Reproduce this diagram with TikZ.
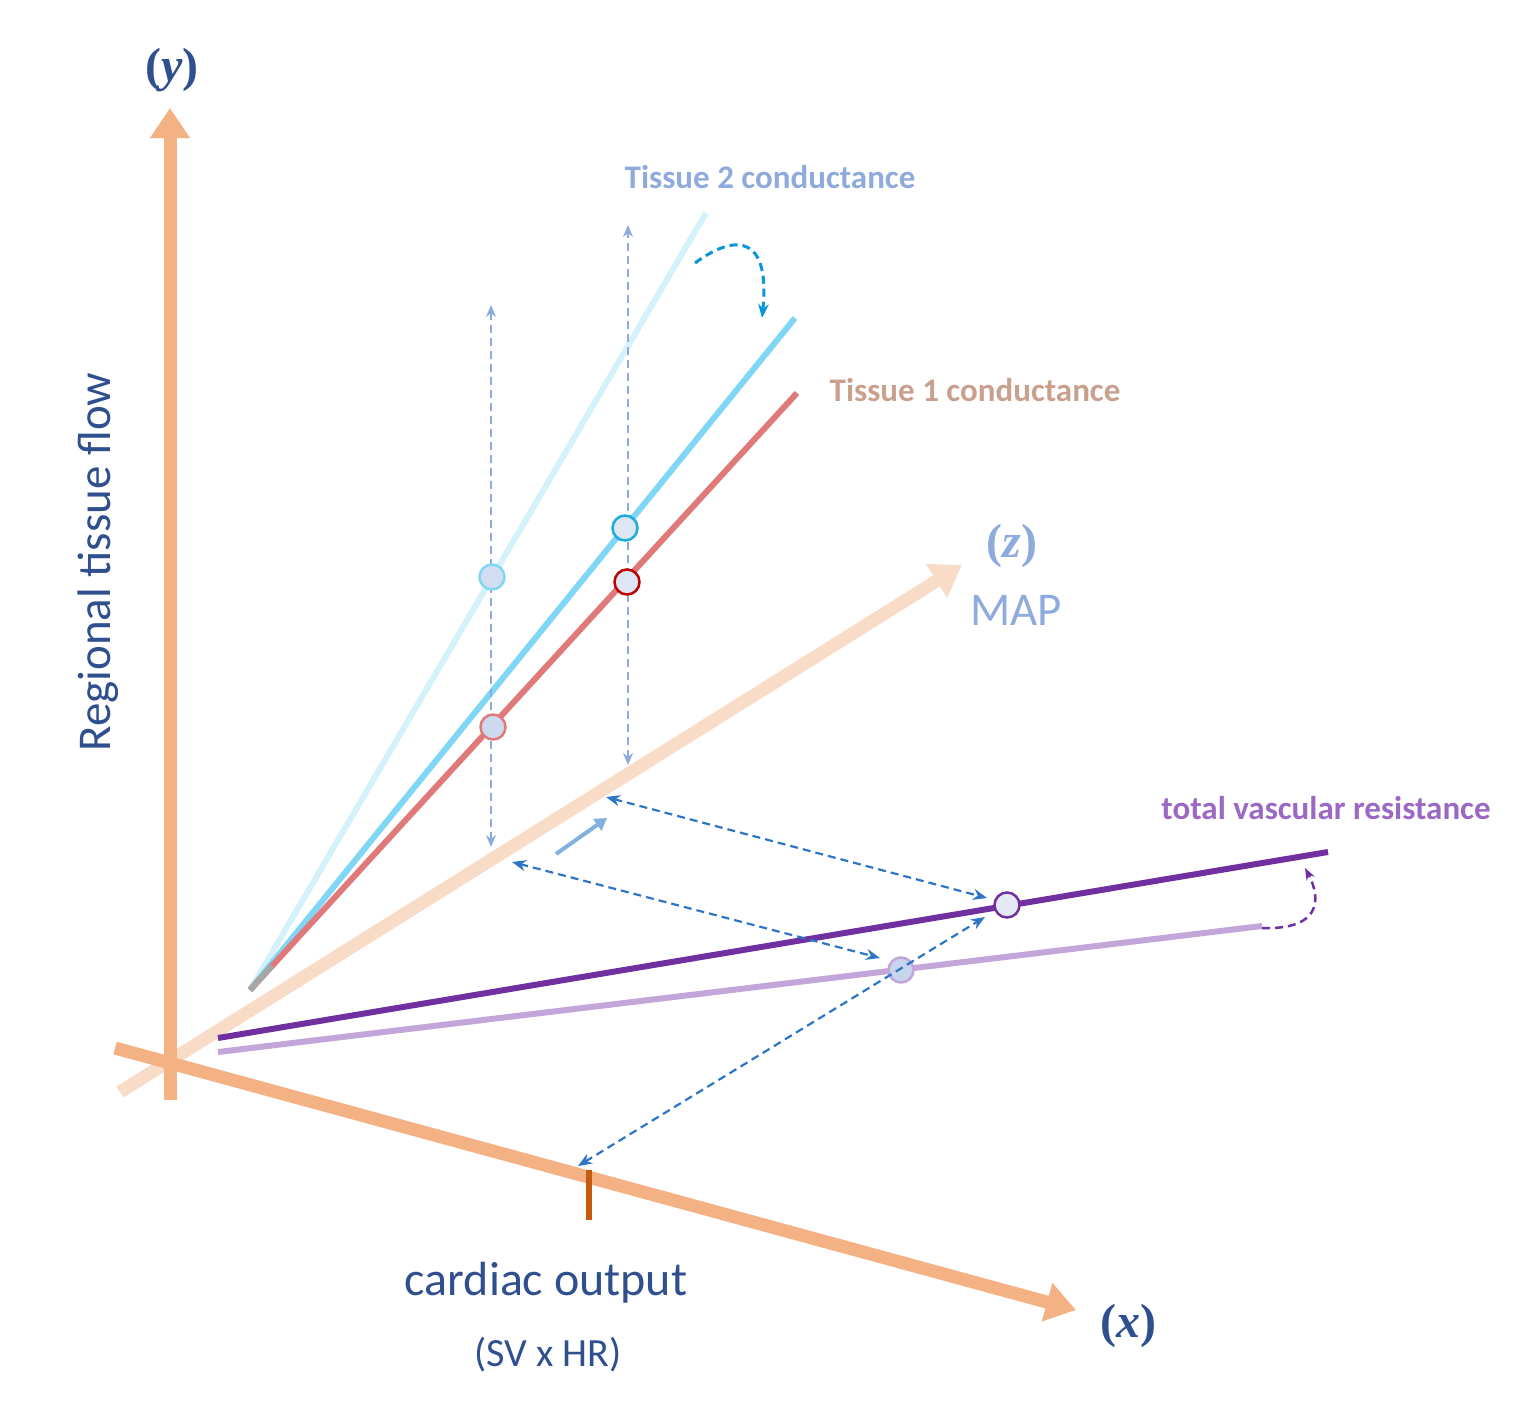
\documentclass[tikz,border=0pt]{standalone}
\usepackage{fontspec}
\setmainfont{Carlito}
\newfontfamily\mathish{Liberation Serif}
\usetikzlibrary{arrows.meta,calc}
\definecolor{axo}{HTML}{F4B183}
\definecolor{axz}{HTML}{F9DCC8}
\definecolor{dblue}{HTML}{2F4F8F}
\definecolor{lblue}{HTML}{8FAADC}
\definecolor{cyanl}{HTML}{D5F1FB}
\definecolor{cyanm}{HTML}{7FD7F5}
\definecolor{redm}{HTML}{E07A7A}
\definecolor{purd}{HTML}{7030A0}
\definecolor{purl}{HTML}{C3A5DA}
\definecolor{arrb}{HTML}{2E75C6}
\definecolor{tone}{HTML}{C9A08E}
\definecolor{tvr}{HTML}{9B68C2}
\definecolor{tick}{HTML}{C55A11}
\begin{document}
\begin{tikzpicture}[x=1pt,y=-1pt,
 axis/.style={line width=13pt,-{Triangle[length=30pt,width=38pt]}},
 curve/.style={line width=6pt},
 pt/.style={circle,draw,line width=2.5pt,fill=lblue!35,minimum size=25pt,inner sep=0pt},
 dsh/.style={dash pattern=on 8pt off 5pt},
 vdash/.style={lblue,dsh,line width=2.2pt,{Stealth[length=12pt,width=10pt]}-{Stealth[length=12pt,width=10pt]}},
 bdash/.style={arrb,dsh,line width=2.2pt,{Stealth[length=14pt,width=11pt]}-{Stealth[length=14pt,width=11pt]}},
 axl/.style={font=\mathish\bfseries\fontsize{48}{52}\selectfont},
 lab/.style={font=\bfseries\fontsize{33}{36}\selectfont}]
\useasboundingbox (0,0) rectangle (1540,1414);
% axes
\coordinate (z0) at (120,1092); \coordinate (z1) at (962,565);
\draw[axis,axz] (z0) -- (z1);
\coordinate (y0) at (170,1100); \coordinate (y1) at (170,108);
\draw[axis,axo] (y0) -- (y1);
\coordinate (x0) at (115,1048); \coordinate (x1) at (1076,1310);
\draw[axis,axo] (x0) -- (x1);
\coordinate (t0) at (589,1170); \coordinate (t1) at (589,1220);
\draw[tick,line width=6pt] (t0) -- (t1);
% conductance lines
\coordinate (o) at (250,990);
\coordinate (c1) at (706,213); \coordinate (c2) at (795,318); \coordinate (c3) at (797,393);
\draw[curve,cyanl] (o) -- (c1);
\draw[curve,cyanm] (o) -- (c2);
\draw[curve,redm] (o) -- (c3);
\draw[line width=6pt,gray!70] (o) -- ($(o)!0.04!(c3)$);
% resistance lines
\coordinate (r0) at (218,1038); \coordinate (r1) at (1328,852);
\coordinate (s0) at (218,1052); \coordinate (s1) at (1262,926);
\draw[curve,purl] (s0) -- (s1);
\draw[curve,purd] (r0) -- (r1);
% vertical dashed arrows
\coordinate (v1a) at (491,847); \coordinate (v1b) at (491,305);
\coordinate (v2a) at (628,765); \coordinate (v2b) at (628,225);
\draw[vdash] (v1a) -- (v1b);
\draw[vdash] (v2a) -- (v2b);
% points
\node[pt,draw=cyanm,fill=lblue!40] (p1) at (492,577) {};
\node[pt,draw=arrb!60!cyan,fill=lblue!30] (p2) at (625,528) {};
\node[pt,draw=red!75!black,fill=lblue!30] (p3) at (627,582) {};
\node[pt,draw=redm,fill=lblue!45] (p4) at (493,727) {};
\node[pt,draw=purd,fill=lblue!25] (p5) at (1007,905) {};
\node[pt,draw=purl,fill=lblue!50] (p6) at (901,970) {};
% blue dashed arrows
\coordinate (b1) at (606,797); \coordinate (b2) at (987,898);
\coordinate (b3) at (512,862); \coordinate (b4) at (880,958);
\coordinate (b5) at (578,1166); \coordinate (b6) at (985,917);
\draw[bdash] (b1) -- (b2);
\draw[bdash] (b3) -- (b4);
\draw[bdash] (b5) -- (b6);
\coordinate (m0) at (556,854); \coordinate (m1) at (607,818);
\draw[lblue!90!cyan,line width=4pt,-{Triangle[length=12pt,width=14pt]}] (m0) -- (m1);
% curved arrows
\coordinate (k0) at (695,263); \coordinate (k1) at (762,318);
\draw[cyan!80!blue,dsh,line width=3pt,-{Stealth[length=14pt]}] (k0) .. controls (740,230) and (770,240) .. (k1);
\coordinate (q0) at (1262,928); \coordinate (q1) at (1305,868);
\draw[purd,dsh,line width=2.5pt,-{Stealth[length=12pt]}] (q0) .. controls (1320,930) and (1322,900) .. (q1);
% labels
\node[dblue,axl] (ly) at (172,70) {(\textit{y})};
\node[dblue,axl] (lx) at (1128,1326) {(\textit{x})};
\node[lblue,axl] (lz) at (1012,546) {(\textit{z})};
\node[lblue,font=\fontsize{47}{50}\selectfont] (lmap) at (1016,610) {MAP};
\node[dblue,rotate=90,font=\fontsize{47}{50}\selectfont] (lrt) at (98,562) {Regional tissue flow};
\node[dblue,font=\fontsize{48}{52}\selectfont] (lco) at (546,1283) {cardiac output};
\node[dblue,font=\fontsize{40}{44}\selectfont] (lsv) at (548,1355) {(SV x HR)};
\node[lab,lblue] (lt2) at (770,177) {Tissue 2 conductance};
\node[lab,tone] (lt1) at (975,390) {Tissue 1 conductance};
\node[lab,tvr] (ltvr) at (1326,808) {total vascular resistance};
\end{tikzpicture}
\end{document}
